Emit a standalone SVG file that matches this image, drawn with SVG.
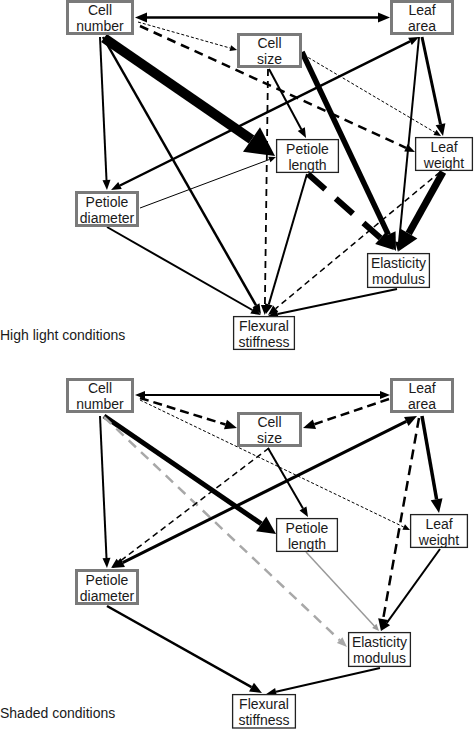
<svg xmlns="http://www.w3.org/2000/svg" width="474" height="729" viewBox="0 0 474 729">
<style>
.bg{fill:#fff;stroke:#7a7a7a;stroke-width:3}
.bb{fill:#fff;stroke:#222;stroke-width:1.3}
text{font-family:"Liberation Sans",Arial,sans-serif;font-size:14px;fill:#1a1a1a;text-anchor:middle}
.lbl{text-anchor:start}
.c{fill:none;stroke:#000}
.hd{fill:#000}
</style>
<defs>
<marker id="h1" markerUnits="userSpaceOnUse" markerWidth="7" markerHeight="6" refX="0" refY="3" orient="auto-start-reverse" overflow="visible"><path d="M0,0 L7,3 L0,6 z" fill="#000"/></marker>
<marker id="h2" markerUnits="userSpaceOnUse" markerWidth="10" markerHeight="8" refX="0" refY="4" orient="auto-start-reverse" overflow="visible"><path d="M0,0 L10,4 L0,8 z" fill="#000"/></marker>
<marker id="h3" markerUnits="userSpaceOnUse" markerWidth="12" markerHeight="10" refX="0" refY="5" orient="auto-start-reverse" overflow="visible"><path d="M0,0 L12,5 L0,10 z" fill="#000"/></marker>
<marker id="h5" markerUnits="userSpaceOnUse" markerWidth="14" markerHeight="12" refX="0" refY="6" orient="auto-start-reverse" overflow="visible"><path d="M0,0 L14,6 L0,12 z" fill="#000"/></marker>
<marker id="h4" markerUnits="userSpaceOnUse" markerWidth="18" markerHeight="16" refX="0" refY="8" orient="auto-start-reverse" overflow="visible"><path d="M0,0 L18,8 L0,16 z" fill="#000"/></marker>
<marker id="h6" markerUnits="userSpaceOnUse" markerWidth="18" markerHeight="18" refX="0" refY="9" orient="auto-start-reverse" overflow="visible"><path d="M0,0 L18,9 L0,18 z" fill="#000"/></marker>
<marker id="g2" markerUnits="userSpaceOnUse" markerWidth="10" markerHeight="8" refX="0" refY="4" orient="auto-start-reverse" overflow="visible"><path d="M0,0 L10,4 L0,8 z" fill="#a8a8a8"/></marker>
<marker id="g1" markerUnits="userSpaceOnUse" markerWidth="7" markerHeight="6" refX="0" refY="3" orient="auto-start-reverse" overflow="visible"><path d="M0,0 L7,3 L0,6 z" fill="#999"/></marker>
</defs>
<g id="connectors">
<!-- top panel -->
<line class="c" x1="147" y1="17.5" x2="378" y2="17.5" stroke-width="2.5" marker-start="url(#h3)" marker-end="url(#h3)"/>
<line class="c" x1="138" y1="22" x2="230.3" y2="48.1" stroke-width="1" stroke-dasharray="3 2" marker-end="url(#h1)"/>
<line class="c" x1="140" y1="26" x2="405.9" y2="147.8" stroke-width="2.5" stroke-dasharray="9 6" marker-end="url(#h2)"/>
<line class="c" x1="304" y1="55" x2="435" y2="132.4" stroke-width="1" stroke-dasharray="3 2" marker-end="url(#h1)"/>
<line class="c" x1="104" y1="38" x2="251.5" y2="139.5" stroke-width="10"/>
<polygon class="hd" points="275,156 243,151.8 260,127.2"/>
<line class="c" x1="100" y1="37" x2="106.5" y2="180" stroke-width="2" marker-end="url(#h2)"/>
<line class="c" x1="103" y1="37" x2="256" y2="305.3" stroke-width="2.5" marker-end="url(#h2)"/>
<line class="c" x1="410" y1="41.4" x2="120" y2="185.5" stroke-width="2.5" marker-start="url(#h2)" marker-end="url(#h2)"/>
<line class="c" x1="422" y1="37" x2="440.5" y2="124.3" stroke-width="3" marker-end="url(#h3)"/>
<line class="c" x1="419" y1="37" x2="399" y2="242" stroke-width="2" marker-end="url(#h2)"/>
<line class="c" x1="269" y1="69" x2="301.3" y2="129.2" stroke-width="2" marker-end="url(#h2)"/>
<line class="c" x1="268" y1="69" x2="264.9" y2="305" stroke-width="1.8" stroke-dasharray="7 5" marker-end="url(#h2)"/>
<line class="c" x1="302" y1="52" x2="388.3" y2="234.7" stroke-width="5.5" marker-end="url(#h4)"/>
<line class="c" x1="443" y1="172" x2="408.7" y2="233.5" stroke-width="7"/>
<polygon class="hd" points="399,251 417.4,238.4 400,228.6"/>
<line class="c" x1="308" y1="174" x2="380.5" y2="238.1" stroke-width="6" stroke-dasharray="23 14" marker-end="url(#h4)"/>
<line class="c" x1="307" y1="174" x2="268.8" y2="304.4" stroke-width="2" marker-end="url(#h2)"/>
<line class="c" x1="140" y1="208" x2="269.4" y2="159.5" stroke-width="1" marker-end="url(#h1)"/>
<line class="c" x1="107" y1="227" x2="252.3" y2="310" stroke-width="2" marker-end="url(#h2)"/>
<line class="c" x1="440" y1="172" x2="275.7" y2="308.6" stroke-width="1.5" stroke-dasharray="6 4" marker-end="url(#h2)"/>
<line class="c" x1="397" y1="289" x2="277.8" y2="314" stroke-width="2" marker-end="url(#h2)"/>
<!-- bottom panel -->
<line class="c" x1="145" y1="395" x2="380" y2="395" stroke-width="1.8" marker-start="url(#h2)" marker-end="url(#h2)"/>
<line class="c" x1="140" y1="398" x2="225.5" y2="424.5" stroke-width="2.5" stroke-dasharray="9 5" marker-end="url(#h3)"/>
<line class="c" x1="140" y1="400" x2="403.7" y2="527" stroke-width="1" stroke-dasharray="3 2" marker-end="url(#h1)"/>
<line class="c" x1="389" y1="399" x2="314.4" y2="424.2" stroke-width="2.5" stroke-dasharray="9 5" marker-end="url(#h3)"/>
<line class="c" x1="104" y1="416" x2="261.2" y2="523.8" stroke-width="5" marker-end="url(#h6)"/>
<line class="c" x1="100" y1="416" x2="106.5" y2="558" stroke-width="2" marker-end="url(#h2)"/>
<line x1="104" y1="417" x2="339.7" y2="640.1" stroke="#a8a8a8" stroke-width="2.5" stroke-dasharray="10 7" marker-end="url(#g2)"/>
<line class="c" x1="269" y1="448" x2="119" y2="562" stroke-width="1.5" stroke-dasharray="6 4" marker-end="url(#h2)"/>
<line class="c" x1="268" y1="448" x2="303" y2="508.4" stroke-width="2" marker-end="url(#h2)"/>
<line class="c" x1="406.3" y1="421.4" x2="122.7" y2="562.6" stroke-width="3" marker-start="url(#h3)" marker-end="url(#h3)"/>
<line class="c" x1="422" y1="416" x2="436.6" y2="499.2" stroke-width="3.5" marker-end="url(#h5)"/>
<line class="c" x1="419" y1="418" x2="383.1" y2="619.2" stroke-width="2.5" stroke-dasharray="10 6" marker-end="url(#h3)"/>
<line class="c" x1="440" y1="549" x2="386.8" y2="622.9" stroke-width="2" marker-end="url(#h2)"/>
<line x1="306" y1="552" x2="374.3" y2="625.9" stroke="#999" stroke-width="1.5" marker-end="url(#g1)"/>
<line class="c" x1="107" y1="606" x2="251.5" y2="687.1" stroke-width="2.5" marker-end="url(#h3)"/>
<line class="c" x1="380" y1="668" x2="276" y2="691.8" stroke-width="2" marker-end="url(#h2)"/>
</g>
<!-- top panel nodes -->
<g id="t-cell-number"><rect class="bg" x="67.5" y="1.5" width="65" height="32"/><text x="100" y="15">Cell</text><text x="100" y="31">number</text></g>
<g id="t-leaf-area"><rect class="bg" x="391.5" y="1.5" width="61" height="32"/><text x="422" y="15">Leaf</text><text x="422" y="31">area</text></g>
<g id="t-cell-size"><rect class="bg" x="238.5" y="34.5" width="62" height="32"/><text x="269.5" y="48">Cell</text><text x="269.5" y="64">size</text></g>
<g id="t-petiole-length"><rect class="bb" x="276.6" y="139.6" width="61.8" height="32.8"/><text x="307.5" y="153.5">Petiole</text><text x="307.5" y="169.5">length</text></g>
<g id="t-leaf-weight"><rect class="bb" x="415.6" y="137.6" width="56.8" height="32.8"/><text x="444" y="151.5">Leaf</text><text x="444" y="167.5">weight</text></g>
<g id="t-petiole-diameter"><rect class="bg" x="76.5" y="192.5" width="61" height="33"/><text x="107" y="206.5">Petiole</text><text x="107" y="222.5">diameter</text></g>
<g id="t-elasticity-modulus"><rect class="bb" x="367.6" y="253.6" width="61.8" height="33.8"/><text x="398.5" y="268">Elasticity</text><text x="398.5" y="284">modulus</text></g>
<g id="t-flexural-stiffness"><rect class="bb" x="233.6" y="316.6" width="60.8" height="32.8"/><text x="264" y="330.5">Flexural</text><text x="264" y="346.5">stiffness</text></g>
<text class="lbl" x="0" y="340">High light conditions</text>
<!-- bottom panel nodes -->
<g id="b-cell-number"><rect class="bg" x="67.5" y="379.5" width="65" height="32"/><text x="100" y="393">Cell</text><text x="100" y="409">number</text></g>
<g id="b-leaf-area"><rect class="bg" x="391.5" y="379.5" width="61" height="32"/><text x="422" y="393">Leaf</text><text x="422" y="409">area</text></g>
<g id="b-cell-size"><rect class="bg" x="238.5" y="413.5" width="62" height="32"/><text x="269.5" y="427">Cell</text><text x="269.5" y="443">size</text></g>
<g id="b-petiole-length"><rect class="bb" x="276.6" y="518.6" width="60.8" height="32.8"/><text x="307" y="532.5">Petiole</text><text x="307" y="548.5">length</text></g>
<g id="b-leaf-weight"><rect class="bb" x="410.6" y="514.6" width="56.8" height="32.8"/><text x="439" y="528.5">Leaf</text><text x="439" y="544.5">weight</text></g>
<g id="b-petiole-diameter"><rect class="bg" x="76.5" y="570.5" width="61" height="33"/><text x="107" y="584.5">Petiole</text><text x="107" y="600.5">diameter</text></g>
<g id="b-elasticity-modulus"><rect class="bb" x="348.6" y="632.6" width="61.8" height="33.8"/><text x="379.5" y="647">Elasticity</text><text x="379.5" y="663">modulus</text></g>
<g id="b-flexural-stiffness"><rect class="bb" x="232.6" y="694.6" width="62.8" height="33.4"/><text x="264" y="708.5">Flexural</text><text x="264" y="724.5">stiffness</text></g>
<text class="lbl" x="0" y="718">Shaded conditions</text>
</svg>
